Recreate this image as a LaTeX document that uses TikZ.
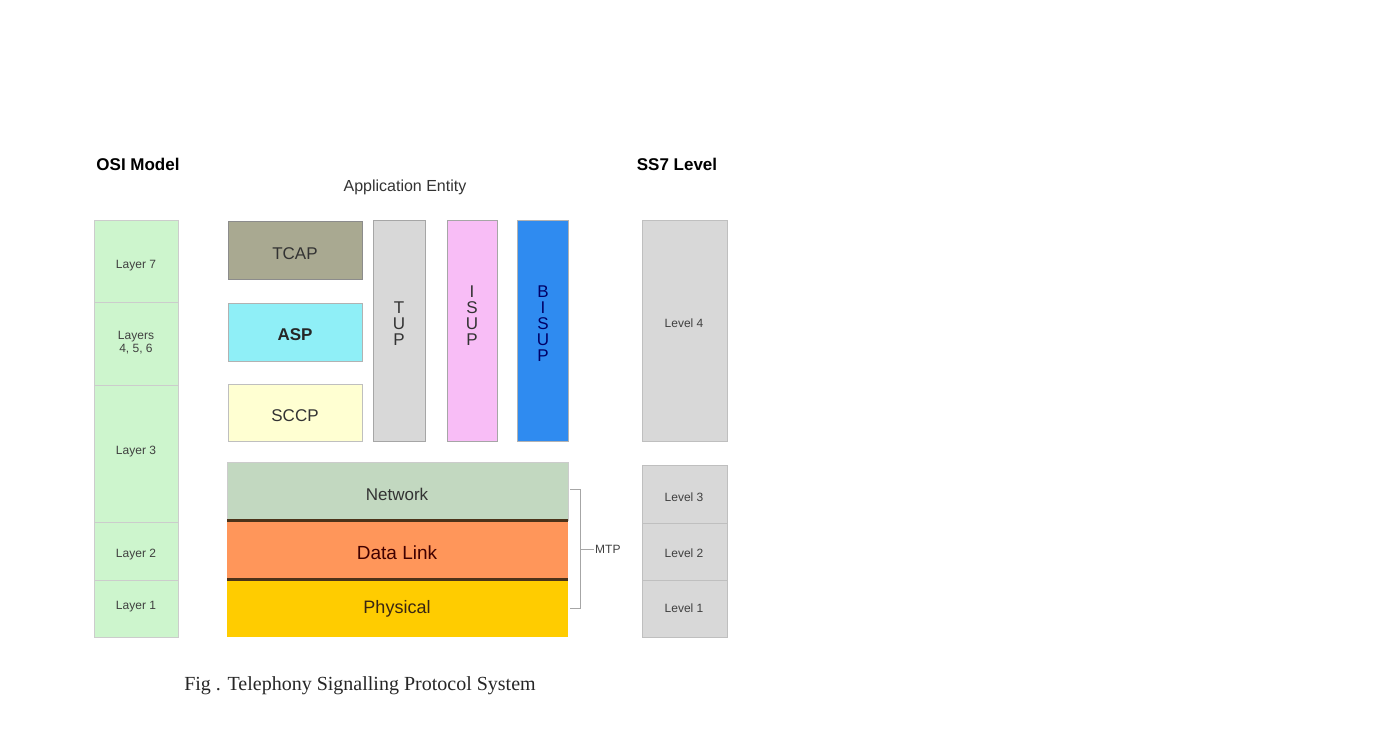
\documentclass[tikz,border=0pt]{standalone}
\usepackage{fontspec}
\setmainfont{Liberation Sans}
\newfontfamily\capfont{Liberation Serif}
\begin{document}
\begin{tikzpicture}[x=1pt,y=-1pt,
 box/.style={draw=#1!70!black,line width=1pt},
 sm/.style={font=\fontsize{12}{13}\selectfont,text=black!75,align=center},
 md/.style={font=\fontsize{17}{18}\selectfont,text=black!80}]
\useasboundingbox (0,0) rectangle (1375,743);
\definecolor{osi}{HTML}{CDF5CD}
\definecolor{tcap}{HTML}{A9A991}
\definecolor{asp}{HTML}{8FEFF7}
\definecolor{sccp}{HTML}{FFFFD2}
\definecolor{gr}{HTML}{D8D8D8}
\definecolor{isup}{HTML}{F8BDF6}
\definecolor{bisup}{HTML}{2F8BF0}
\definecolor{net}{HTML}{C2D8C0}
\definecolor{dl}{HTML}{FF965A}
\definecolor{phy}{HTML}{FFCC00}
% OSI
\filldraw[fill=osi,draw=black!20,line width=1pt] (94,221) rectangle (178,637);
\foreach \y in {302,385,522,580} \draw[black!20,line width=1pt] (94,\y) -- (178,\y);
\node[sm] (l7) at (136,266) {Layer 7};
\node[sm] (l456) at (136,343) {Layers\\4, 5, 6};
\node[sm] (l3) at (136,452) {Layer 3};
\node[sm] (l2) at (136,555) {Layer 2};
\node[sm] (l1) at (136,607) {Layer 1};
% titles
\node[font=\bfseries\fontsize{17}{18}\selectfont] (osit) at (138,164) {OSI Model};
\node[font=\bfseries\fontsize{17}{18}\selectfont] (sst) at (677,164) {SS7 Level};
\node[font=\fontsize{16}{18}\selectfont,text=black!80] (ae) at (405,187) {Application Entity};
% upper
\filldraw[fill=tcap,draw=black!45,line width=1pt] (228,222) rectangle (362,279);
\node[md] (tcapn) at (295,254) {TCAP};
\filldraw[fill=asp,draw=black!30,line width=1pt] (228,303) rectangle (362,361);
\node[md,text=black!85] (aspn) at (295,335) {\bfseries ASP};
\filldraw[fill=sccp,draw=black!25,line width=1pt] (228,384) rectangle (362,441);
\node[md] (sccpn) at (295,416) {SCCP};
\filldraw[fill=gr,draw=black!35,line width=1pt] (373,221) rectangle (425,441);
\node[md,align=center,font=\fontsize{17}{16}\selectfont] (tup) at (399,324) {T\\U\\P};
\filldraw[fill=isup,draw=black!35,line width=1pt] (447,221) rectangle (497,441);
\node[md,align=center,font=\fontsize{17}{16}\selectfont] (isupn) at (472,316) {I\\S\\U\\P};
\filldraw[fill=bisup,draw=black!30,line width=1pt] (517,221) rectangle (568,441);
\node[md,align=center,font=\fontsize{17}{16}\selectfont,text=black!60!blue] (bisupn) at (543,324) {B\\I\\S\\U\\P};
\filldraw[fill=gr,draw=black!25,line width=1pt] (642,221) rectangle (727,441);
\node[sm] (lv4) at (684,323) {Level 4};
% MTP
\filldraw[fill=net,draw=black!20,line width=1pt] (227,462) rectangle (568,520);
\node[md] (netn) at (397,494) {Network};
\filldraw[fill=dl,draw=none] (227,520) rectangle (568,578);
\draw[line width=3pt,black!60!brown] (227,520) -- (568,520) (227,579) -- (568,579);
\node[md,font=\fontsize{19}{20}\selectfont,text=black!75!red] (dln) at (397,553) {Data Link};
\filldraw[fill=phy,draw=none] (227,581) rectangle (568,637);
\node[md,font=\fontsize{18}{20}\selectfont,text=black!70!brown] (phyn) at (397,609) {Physical};
\draw[black!35,line width=1pt] (570,489) -- (580,489) -- (580,608) -- (570,608);
\coordinate (mb) at (580,549);
\node[sm,anchor=west,inner sep=1pt] (mtp) at (594,549) {MTP};
\draw[black!35,line width=1pt] (mb) -- (mtp.west);
\filldraw[fill=gr,draw=black!25,line width=1pt] (642,465) rectangle (727,637);
\foreach \y in {523,580} \draw[black!25,line width=1pt] (642,\y) -- (727,\y);
\node[sm] (lv3) at (684,497) {Level 3};
\node[sm] (lv2) at (684,553) {Level 2};
\node[sm] (lv1) at (684,608) {Level 1};
% caption
\node[font=\capfont\fontsize{20}{22}\selectfont,text=black!85] (cap) at (360,686) {Fig . Telephony Signalling Protocol System};
\end{tikzpicture}
\end{document}
